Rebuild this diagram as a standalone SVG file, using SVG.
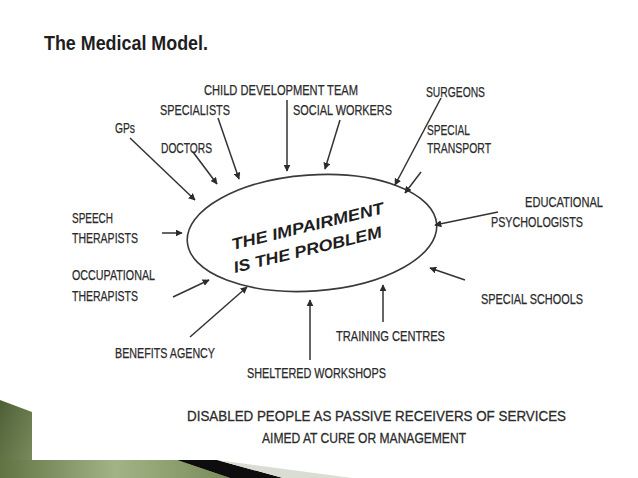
<svg xmlns="http://www.w3.org/2000/svg" width="638" height="478" viewBox="0 0 638 478">
<defs>
<style>
.lbl{font-family:"Liberation Sans",Arial,sans-serif;font-size:14.5px;fill:#2b2b2b;stroke:#2b2b2b;stroke-width:0.25;}
.ttl{font-family:"Liberation Sans",Arial,sans-serif;font-size:21px;font-weight:bold;fill:#1e1e1e;}
.big{font-family:"Liberation Sans",Arial,sans-serif;font-size:15.5px;fill:#2b2b2b;stroke:#2b2b2b;stroke-width:0.3;}
.core{font-family:"Liberation Sans",Arial,sans-serif;font-size:16px;font-weight:bold;font-style:italic;fill:#1e1e1e;}
.arr{stroke:#333;stroke-width:1.5;fill:none;marker-end:url(#ah);}
</style>
<marker id="ah" viewBox="0 0 10 10" refX="9" refY="5" markerWidth="7" markerHeight="7" markerUnits="userSpaceOnUse" orient="auto">
<path d="M0,0 L10,5 L0,10 Z" fill="#2b2b2b"/>
</marker>
<linearGradient id="gp" x1="0" y1="0" x2="1" y2="1">
<stop offset="0" stop-color="#4e5f36"/>
<stop offset="1" stop-color="#7f9160"/>
</linearGradient>
<linearGradient id="gb" x1="0" y1="0" x2="1" y2="0">
<stop offset="0" stop-color="#617343"/>
<stop offset="0.5" stop-color="#a2b385"/>
<stop offset="1" stop-color="#7a8b5a"/>
</linearGradient>
</defs>
<rect width="638" height="478" fill="#ffffff"/>

<g id="decoration">
<polygon points="0,400 32,412 32,478 0,478" fill="url(#gp)"/>
<polygon points="0,460 177,460 230,478 0,478" fill="url(#gb)"/>
<polygon points="177,460 217,460 283,478 230,478" fill="#0d0d0d"/>
<polygon points="217,460 352,478 283,478" fill="#d9ddd2"/>
</g>

<g id="title"><text class="ttl" x="44" y="50" textLength="164" lengthAdjust="spacingAndGlyphs">The Medical Model.</text></g>

<g id="core">
<ellipse cx="312" cy="233" rx="125" ry="58" transform="rotate(-4 312 233)" fill="none" stroke="#3a3a3a" stroke-width="1.6"/>
<text class="core" transform="translate(233,250) rotate(-13.7)" textLength="156" lengthAdjust="spacingAndGlyphs">THE IMPAIRMENT</text>
<text class="core" transform="translate(235,273) rotate(-13.7)" textLength="152" lengthAdjust="spacingAndGlyphs">IS THE PROBLEM</text>
</g>

<g id="connectors">
<line class="arr" x1="130" y1="138" x2="195" y2="200"/>
<line class="arr" x1="193" y1="152" x2="217" y2="184"/>
<line class="arr" x1="218" y1="118" x2="239" y2="179"/>
<line class="arr" x1="287" y1="100" x2="287" y2="171"/>
<line class="arr" x1="340" y1="120" x2="325" y2="169"/>
<line class="arr" x1="441" y1="98" x2="395" y2="185"/>
<line class="arr" x1="421" y1="172" x2="405" y2="193"/>
<line class="arr" x1="162" y1="233" x2="182" y2="233"/>
<line class="arr" x1="173" y1="297" x2="209" y2="280"/>
<line class="arr" x1="190" y1="337" x2="247" y2="287"/>
<line class="arr" x1="310" y1="360" x2="310" y2="300"/>
<line class="arr" x1="498" y1="212" x2="435" y2="225"/>
<line class="arr" x1="465" y1="280" x2="430" y2="268"/>
<line class="arr" x1="383" y1="322" x2="383" y2="285"/>
</g>

<g id="n-child"><text class="lbl" x="204" y="95" textLength="154" lengthAdjust="spacingAndGlyphs">CHILD DEVELOPMENT TEAM</text></g>
<g id="n-specialists"><text class="lbl" x="160" y="115" textLength="70" lengthAdjust="spacingAndGlyphs">SPECIALISTS</text></g>
<g id="n-gps"><text class="lbl" x="115" y="133" textLength="20" lengthAdjust="spacingAndGlyphs">GPs</text></g>
<g id="n-doctors"><text class="lbl" x="161" y="153" textLength="51" lengthAdjust="spacingAndGlyphs">DOCTORS</text></g>
<g id="n-social"><text class="lbl" x="293" y="115" textLength="99" lengthAdjust="spacingAndGlyphs">SOCIAL WORKERS</text></g>
<g id="n-surgeons"><text class="lbl" x="426" y="97" textLength="59" lengthAdjust="spacingAndGlyphs">SURGEONS</text></g>
<g id="n-transport">
<text class="lbl" x="427" y="135" textLength="43" lengthAdjust="spacingAndGlyphs">SPECIAL</text>
<text class="lbl" x="427" y="153" textLength="64" lengthAdjust="spacingAndGlyphs">TRANSPORT</text>
</g>
<g id="n-speech">
<text class="lbl" x="72" y="223" textLength="41" lengthAdjust="spacingAndGlyphs">SPEECH</text>
<text class="lbl" x="72" y="243" textLength="66" lengthAdjust="spacingAndGlyphs">THERAPISTS</text>
</g>
<g id="n-occupational">
<text class="lbl" x="72" y="280" textLength="83" lengthAdjust="spacingAndGlyphs">OCCUPATIONAL</text>
<text class="lbl" x="72" y="301" textLength="66" lengthAdjust="spacingAndGlyphs">THERAPISTS</text>
</g>
<g id="n-benefits"><text class="lbl" x="115" y="358" textLength="100" lengthAdjust="spacingAndGlyphs">BENEFITS AGENCY</text></g>
<g id="n-sheltered"><text class="lbl" x="247" y="378" textLength="139" lengthAdjust="spacingAndGlyphs">SHELTERED WORKSHOPS</text></g>
<g id="n-educational">
<text class="lbl" x="525" y="207" textLength="78" lengthAdjust="spacingAndGlyphs">EDUCATIONAL</text>
<text class="lbl" x="491" y="227" textLength="92" lengthAdjust="spacingAndGlyphs">PSYCHOLOGISTS</text>
</g>
<g id="n-schools"><text class="lbl" x="481" y="304" textLength="102" lengthAdjust="spacingAndGlyphs">SPECIAL SCHOOLS</text></g>
<g id="n-training"><text class="lbl" x="336" y="341" textLength="109" lengthAdjust="spacingAndGlyphs">TRAINING CENTRES</text></g>

<g id="caption">
<text class="big" x="187" y="421" textLength="379" lengthAdjust="spacingAndGlyphs">DISABLED PEOPLE AS PASSIVE RECEIVERS OF SERVICES</text>
<text class="big" x="262" y="443" textLength="204" lengthAdjust="spacingAndGlyphs">AIMED AT CURE OR MANAGEMENT</text>
</g>
</svg>
